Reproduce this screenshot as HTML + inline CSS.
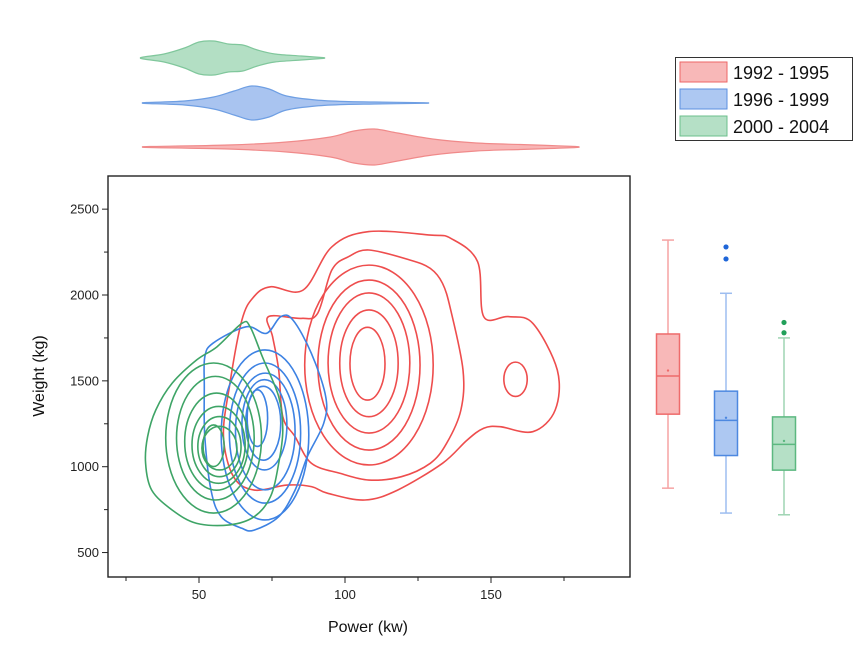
<!DOCTYPE html>
<html><head><meta charset="utf-8">
<style>
html,body{margin:0;padding:0;background:#fff;}
svg{display:block;font-family:"Liberation Sans",Arial,sans-serif;}
</style></head>
<body>
<svg id="chart" width="860" height="649" viewBox="0 0 860 649" xmlns="http://www.w3.org/2000/svg">
  <g id="violins"></g>
  <g id="legend">
    <rect x="675.5" y="57.5" width="177" height="83" fill="#fff" stroke="#333" stroke-width="1"/>
    <g>
      <rect x="680" y="62" width="47" height="20" fill="#f8b8b8" stroke="#ee6666"/>
      <text x="733" y="79" font-size="18" fill="#111">1992 - 1995</text>
    </g>
    <g>
      <rect x="680" y="89" width="47" height="20" fill="#adc8f2" stroke="#5b8fe0"/>
      <text x="733" y="106" font-size="18" fill="#111">1996 - 1999</text>
    </g>
    <g>
      <rect x="680" y="116" width="47" height="20" fill="#b5e0c6" stroke="#6cbf8c"/>
      <text x="733" y="133" font-size="18" fill="#111">2000 - 2004</text>
    </g>
  </g>
  <g id="plot"></g>
  <g id="axes"></g>
  <g id="boxes"></g>
  <text x="368" y="632" font-size="16" text-anchor="middle" fill="#111">Power (kw)</text>
  <text transform="translate(44,376) rotate(-90)" font-size="16" text-anchor="middle" fill="#111">Weight (kg)</text>
</svg>
<script>
// ---- data ----
const xTicks = [50, 100, 150];
const xMinor = [25, 75, 125, 175];
const yTicks = [500, 1000, 1500, 2000, 2500];
const yMinor = [750, 1250, 1750, 2250];
const groups = ['1992 - 1995', '1996 - 1999', '2000 - 2004'];
// outer contour polygons (power, weight)
const redOuterP = [68.8,74.5,85.7,95.5,108.2,129.2,136.2,145.4,147.5,155.9,164.3,172.7,172,164.3,153.1,147.5,141.8,133.4,118,106.8,94.1,88.5,80.1,68.9,61.8,58.4,60.4,64.7];
const redOuterW = [1990,2048,2029,2281,2369,2349,2330,2194,1874,1874,1835,1563,1330,1204,1233,1224,1155,1020,864,806,845,884,893,864,942,1175,1466,1854];
const redSecondP = [73.8,85.0,90.6,95.5,101.2,108.2,122.2,129.2,133.4,136.2,140.4,139.7,134.8,129.2,119.3,108.2,98.4,88.5,82.9,78.7,77.3,75.2];
const redSecondW = [1874,1864,1893,2146,2223,2262,2204,2155,2068,1913,1563,1330,1136,1020,942,922,961,1020,1175,1291,1563,1757];
const blueOuterP = [52.0,54.8,66.1,73.1,78.0,82.2,88.5,93.4,92.7,87.1,82.9,77.3,68.9,64.7,57.6,54.1,52.0,51.8];
const blueOuterW = [1640,1719,1815,1777,1874,1854,1660,1408,1253,1058,864,709,631,641,709,864,1175,1466];
const greenOuterP = [32.4,35.2,40.8,49.2,56.2,64.7,67.5,71.7,77.3,78.7,77.3,74.5,68.9,60.4,49.2,40.8,33.8,31.7];
const greenOuterW = [1175,1330,1486,1622,1699,1835,1815,1640,1408,1214,1020,826,709,661,670,748,864,1020];
// inner contour levels as ellipses (center power, center weight, radius power, radius weight)
const redInCx = [108.2,108.2,108.2,108.2,107.7];
const redInCy = [1592,1592,1604,1602,1600];
const redInRx = [22,17.5,14,10,6];
const redInRy = [582,495,408,311,212];
const redIsland = [158.4, 1509, 4, 100];
const blueInCx = [72.6,72.6,72.7,72.4,72,70];
const blueInCy = [1185,1196,1205,1244,1253,1283];
const blueInRx = [15,12.2,10.2,7.7,6,3.5];
const blueInRy = [495,408,340,263,215,165];
const greenInCx = [55,55.6,56,56.7,57,57,55];
const greenInCy = [1167,1166,1146,1127,1117,1108,1122];
const greenInRx = [16.4,13.3,10.9,9.1,7.4,6,3.6];
const greenInRy = [437,360,283,224,175,127,121];
// violins (power positions, density half-width)
const redVioP = [33,60,80,95,103,110,118,130,145,160,170,179];
const redVioD = [0.5,2,5,10,16,18,14,8,4,2.5,1.5,0.5];
const blueVioP = [32,45,55,62,68,74,80,90,100,110,127];
const blueVioD = [0.5,2,6,12,17,14,7,3,1.5,1,0.3];
const greenVioP = [31,38,45,50,55,60,65,70,76,85,92];
const greenVioD = [1,4,10,16,17,14,13,8,4,2,0.5];
// box plot stats (weight)
const boxMax = [2320, 2010, 1750];
const boxQ3 = [1773, 1440, 1290];
const boxMed = [1528, 1270, 1130];
const boxQ1 = [1306, 1065, 980];
const boxMin = [875, 730, 720];
const boxMean = [1560, 1285, 1150];
const outliers = [[], [2280, 2210], [1840, 1780]];

// ---- scales ----
const X0 = 108, X1 = 630, Y0 = 176, Y1 = 577;
const xs = p => 199 + (p - 50) * 2.92;
const ys = w => 295 - (w - 2000) * 0.1717;
const NS = 'http://www.w3.org/2000/svg';
function mk(tag, attrs, parent) {
  const e = document.createElementNS(NS, tag);
  for (const k in attrs) e.setAttribute(k, attrs[k]);
  parent.appendChild(e); return e;
}
function smoothClosed(pts) {
  const n = pts.length; let d = `M${pts[0][0].toFixed(1)},${pts[0][1].toFixed(1)}`;
  for (let i = 0; i < n; i++) {
    const p0 = pts[(i - 1 + n) % n], p1 = pts[i], p2 = pts[(i + 1) % n], p3 = pts[(i + 2) % n];
    const c1 = [p1[0] + (p2[0] - p0[0]) / 6, p1[1] + (p2[1] - p0[1]) / 6];
    const c2 = [p2[0] - (p3[0] - p1[0]) / 6, p2[1] - (p3[1] - p1[1]) / 6];
    d += `C${c1[0].toFixed(1)},${c1[1].toFixed(1)} ${c2[0].toFixed(1)},${c2[1].toFixed(1)} ${p2[0].toFixed(1)},${p2[1].toFixed(1)}`;
  }
  return d + 'Z';
}
const plot = document.getElementById('plot');
const axes = document.getElementById('axes');
const boxes = document.getElementById('boxes');
const vio = document.getElementById('violins');
const cols = ['#ee4d4d', '#3d82e3', '#3ea466'];

function drawPoly(P, W, col, name) {
  const pts = P.map((p, i) => [xs(p), ys(W[i])]);
  const el = mk('path', {d: smoothClosed(pts), fill: 'none', stroke: col, 'stroke-width': 1.6}, plot);
  
  
}
function drawEll(cx, cy, rx, ry, col, name) {
  const el = mk('ellipse', {cx: xs(cx), cy: ys(cy), rx: rx * 2.92, ry: ry * 0.1717, fill: 'none', stroke: col, 'stroke-width': 1.6}, plot);
  
  
}
drawPoly(redOuterP, redOuterW, cols[0], 'red-contour-outer');
drawPoly(redSecondP, redSecondW, cols[0], 'red-contour-2');
redInCx.forEach((c, i) => drawEll(c, redInCy[i], redInRx[i], redInRy[i], cols[0], 'red-contour-inner'));
drawEll(redIsland[0], redIsland[1], redIsland[2], redIsland[3], cols[0], 'red-contour-island');
drawPoly(blueOuterP, blueOuterW, cols[1], 'blue-contour-outer');
blueInCx.forEach((c, i) => drawEll(c, blueInCy[i], blueInRx[i], blueInRy[i], cols[1], 'blue-contour-inner'));
drawPoly(greenOuterP, greenOuterW, cols[2], 'green-contour-outer');
greenInCx.forEach((c, i) => drawEll(c, greenInCy[i], greenInRx[i], greenInRy[i], cols[2], 'green-contour-inner'));

// axes
const frame = mk('rect', {x: X0, y: Y0, width: X1 - X0, height: Y1 - Y0, fill: 'none', stroke: '#222', 'stroke-width': 1.4}, axes);


xTicks.forEach(t => {
  mk('line', {x1: xs(t), x2: xs(t), y1: Y1, y2: Y1 + 6, stroke: '#222'}, axes);
  const tx = mk('text', {x: xs(t), y: Y1 + 22, 'font-size': 13, 'text-anchor': 'middle', fill: '#222'}, axes);
  tx.textContent = t;
  
  
});
xMinor.forEach(t => mk('line', {x1: xs(t), x2: xs(t), y1: Y1, y2: Y1 + 4, stroke: '#222'}, axes));
yTicks.forEach(t => {
  mk('line', {x1: X0 - 6, x2: X0, y1: ys(t), y2: ys(t), stroke: '#222'}, axes);
  const tx = mk('text', {x: X0 - 9, y: ys(t) + 4.5, 'font-size': 13, 'text-anchor': 'end', fill: '#222'}, axes);
  tx.textContent = t;
  
  
});
yMinor.forEach(t => mk('line', {x1: X0 - 4, x2: X0, y1: ys(t), y2: ys(t), stroke: '#222'}, axes));

// violins
const vioBase = [147, 103, 58];
const vioFill = ['#f8b5b5', '#a9c4f0', '#b3dfc4'];
const vioStroke = ['#f08a8a', '#6f9fe3', '#80c79c'];
[[redVioP, redVioD], [blueVioP, blueVioD], [greenVioP, greenVioD]].forEach((v, g) => {
  const P = v[0], D = v[1], b = vioBase[g];
  const top = P.map((p, i) => [xs(p), b - D[i]]);
  const bot = P.slice().reverse().map((p, i) => [xs(p), b + D[D.length - 1 - i]]);
  const pts = [[xs(P[0]) - 3, b]].concat(top, [[xs(P[P.length - 1]) + 3, b]], bot);
  const el = mk('path', {d: smoothClosed(pts), fill: vioFill[g], stroke: vioStroke[g], 'stroke-width': 1.2}, vio);
  
  
});

// box plots
const boxX = [668, 726, 784];
const boxFill = ['#f8b8b8', '#adc8f2', '#b5e0c6'];
const boxStroke = ['#ee6b6b', '#4d88e0', '#5cb880'];
const whiskStroke = ['#f5a3a3', '#9dbdf0', '#9fd4b3'];
groups.forEach((gname, g) => {
  const cx = boxX[g], hw = 11.5;
  const grp = mk('g', {}, boxes);
  
  
  mk('line', {x1: cx, x2: cx, y1: ys(boxMax[g]), y2: ys(boxQ3[g]), stroke: whiskStroke[g], 'stroke-width': 1.5}, grp);
  mk('line', {x1: cx, x2: cx, y1: ys(boxQ1[g]), y2: ys(boxMin[g]), stroke: whiskStroke[g], 'stroke-width': 1.5}, grp);
  mk('line', {x1: cx - 6, x2: cx + 6, y1: ys(boxMax[g]), y2: ys(boxMax[g]), stroke: whiskStroke[g], 'stroke-width': 1.5}, grp);
  mk('line', {x1: cx - 6, x2: cx + 6, y1: ys(boxMin[g]), y2: ys(boxMin[g]), stroke: whiskStroke[g], 'stroke-width': 1.5}, grp);
  mk('rect', {x: cx - hw, y: ys(boxQ3[g]), width: hw * 2, height: ys(boxQ1[g]) - ys(boxQ3[g]), fill: boxFill[g], stroke: boxStroke[g], 'stroke-width': 1.5}, grp);
  mk('line', {x1: cx - hw, x2: cx + hw, y1: ys(boxMed[g]), y2: ys(boxMed[g]), stroke: boxStroke[g], 'stroke-width': 1.5}, grp);
  mk('circle', {cx: cx, cy: ys(boxMean[g]), r: 1.2, fill: boxStroke[g]}, grp);
  outliers[g].forEach(o => mk('circle', {cx: cx, cy: ys(o), r: 2.6, fill: cols[g] === '#3d82e3' ? '#1f66d8' : '#22a05a'}, grp));
});
</script>
</body></html>
